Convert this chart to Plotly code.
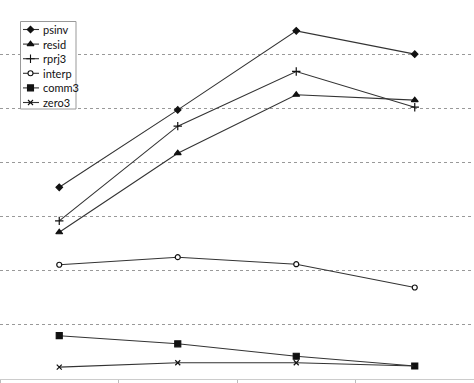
import plotly.graph_objects as go

categories = ["1", "2", "3", "4"]
series_names = ["psinv", "resid", "rprj3", "interp", "comm3", "zero3"]
psinv = [3.54, 4.97, 6.43, 6.00]
resid = [2.71, 4.17, 5.25, 5.15]
rprj3 = [2.92, 4.67, 5.68, 5.02]
interp = [2.11, 2.25, 2.12, 1.69]
comm3 = [0.80, 0.65, 0.42, 0.24]
zero3 = [0.22, 0.30, 0.30, 0.24]
values = [psinv, resid, rprj3, interp, comm3, zero3]
symbols = ["diamond", "triangle-up", "cross-thin", "circle", "square", "x-thin"]
sizes = [5, 6, 6, 5, 6, 5]
fills = ["#111", "#111", "#111", "white", "#111", "#111"]

fig = go.Figure()
for name, vals, sym, sz, fc in zip(series_names, values, symbols, sizes, fills):
    fig.add_trace(go.Scatter(
        x=categories, y=vals, name=name, mode="lines+markers",
        line=dict(color="#333", width=1.1),
        marker=dict(symbol=sym, size=sz, color=fc,
                    line=dict(color="#111", width=1.2)),
        showlegend=False,
    ))

# compact legend drawn on an overlay pixel-space axis
leg_x0, leg_x1, leg_y0, leg_y1 = 20.5, 76, 21.5, 109
row0, row_step = 29.5, 14.6
line_x0, line_x1, mark_x, text_x = 23, 39, 30.5, 41
fig.add_trace(go.Scatter(
    x=[leg_x0, leg_x1, leg_x1, leg_x0, leg_x0],
    y=[leg_y0, leg_y0, leg_y1, leg_y1, leg_y0],
    mode="lines", fill="toself", fillcolor="white",
    line=dict(color="#999", width=1), xaxis="x2", yaxis="y2",
    showlegend=False, hoverinfo="skip",
))
annotations = []
for i, (name, sym, sz, fc) in enumerate(zip(series_names, symbols, sizes, fills)):
    yy = row0 + row_step * i
    fig.add_trace(go.Scatter(
        x=[line_x0, line_x1], y=[yy, yy], mode="lines", xaxis="x2", yaxis="y2",
        line=dict(color="#333", width=1.1), showlegend=False, hoverinfo="skip",
    ))
    fig.add_trace(go.Scatter(
        x=[mark_x], y=[yy], mode="markers", xaxis="x2", yaxis="y2",
        marker=dict(symbol=sym, size=sz, color=fc,
                    line=dict(color="#111", width=1.1)),
        showlegend=False, hoverinfo="skip",
    ))
    annotations.append(dict(x=text_x, y=yy, xref="x2", yref="y2", text=name,
                            showarrow=False, xanchor="left", yanchor="middle",
                            font=dict(size=11, color="#111")))

fig.update_layout(
    width=474, height=383,
    margin=dict(l=0, r=0, t=0, b=4),
    plot_bgcolor="white", paper_bgcolor="white",
    font=dict(family="Lato", size=11, color="#111"),
    showlegend=False,
    annotations=annotations,
    xaxis=dict(type="category", range=[-0.5, 3.5],
               tickson="boundaries", ticks="outside", ticklen=5,
               tickcolor="#bbb", showticklabels=False, showgrid=False,
               showline=True, linecolor="#ccc", linewidth=1, zeroline=False),
    yaxis=dict(range=[0, 7], dtick=1, showgrid=True, gridcolor="#999",
               griddash="dot", gridwidth=1, showticklabels=False,
               zeroline=False, showline=False, ticks=""),
    xaxis2=dict(overlaying="x", range=[0, 474], visible=False, fixedrange=True),
    yaxis2=dict(overlaying="y", range=[379, 0], visible=False, fixedrange=True),
)
fig.write_html("out.html", config={"displayModeBar": False},
               post_script="document.body.style.margin='0';document.body.style.padding='0';")
